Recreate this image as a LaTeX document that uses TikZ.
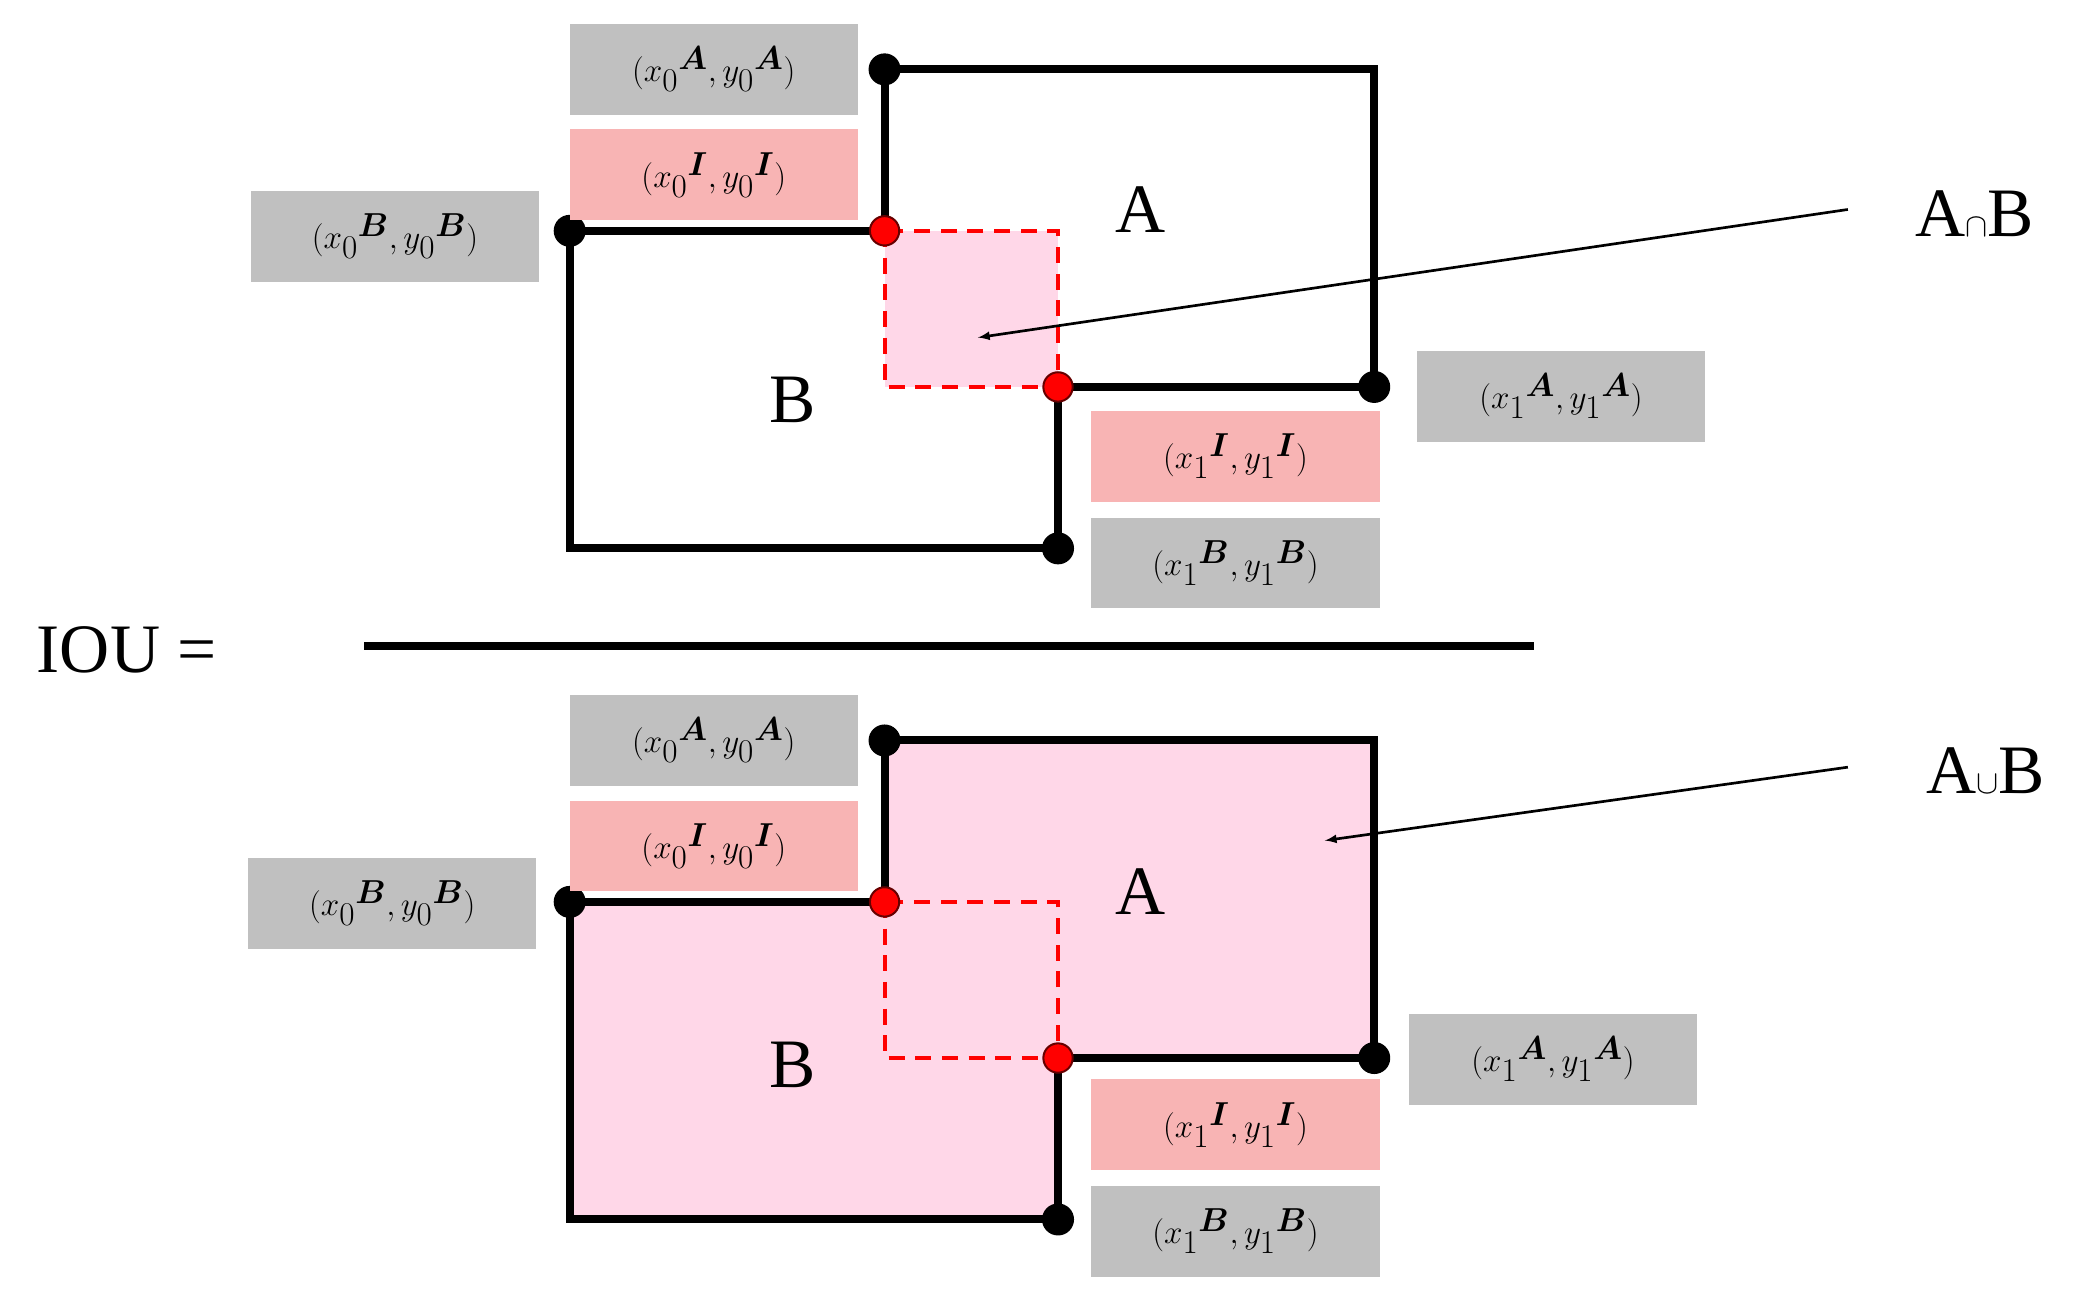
\documentclass[tikz,border=0pt]{standalone}
\usepackage{bm}
\usepackage{fontspec}
\setmainfont{Liberation Serif}
\begin{document}
\definecolor{gbox}{RGB}{192,192,192}
\definecolor{rbox}{RGB}{248,180,180}
\definecolor{pinkf}{RGB}{255,215,232}
\begin{tikzpicture}[x=1pt,y=-1pt,
  box/.style={line width=6pt,black},
  idash/.style={draw=red,line width=3pt,dash pattern=on 12pt off 8pt},
  bdot/.style={circle,fill=black,inner sep=0pt,minimum size=24pt},
  rdot/.style={circle,fill=red,draw=black!60!red,line width=1.5pt,inner sep=0pt,minimum size=22pt},
  lab/.style={inner sep=0pt,minimum width=216pt,minimum height=68pt,font=\fontsize{40}{48}\selectfont},
  g/.style={lab,fill=gbox},
  r/.style={lab,fill=rbox},
  big/.style={font=\fontsize{52}{60}\selectfont},
  arr/.style={-latex,line width=2pt,shorten >=0pt}]
\useasboundingbox (0,0) rectangle (1568,978);
\newcommand{\pl}[2]{$(x_#1{}^{\bm{#2}},y_#1{}^{\bm{#2}})$}
% top
\fill[pinkf] (663,173) rectangle (793,290);
\draw[box] (663,173) -- (663,52) -- (1030,52) -- (1030,290) -- (793,290);
\draw[box] (663,173) -- (427,173) -- (427,411) -- (793,411) -- (793,290);
\draw[idash] (663,173) rectangle (793,290);
\node[bdot] (a0) at (663,52) {};
\node[bdot] (b0) at (427,173) {};
\node[bdot] (a1) at (1030,290) {};
\node[bdot] (b1) at (793,411) {};
\node[rdot] (i0) at (663,173) {};
\node[rdot] (i1) at (793,290) {};
\node[g] (la0) at (535,52) {\pl0A};
\node[r] (li0) at (535,131) {\pl0I};
\node[g] (lb0) at (296,177) {\pl0B};
\node[g] (la1) at (1170,297) {\pl1A};
\node[r] (li1) at (926,342) {\pl1I};
\node[g] (lb1) at (926,422) {\pl1B};
\node[big] (tA) at (855,157) {A};
\node[big] (tB) at (594,300) {B};
\node[big] (AnB) at (1480,160) {A$\cap$B};
\coordinate (s1) at (1385,157);
\coordinate (e1) at (733,253);
\draw[arr] (s1) -- (e1);
% fraction
\node[big] (iou) at (95,487) {IOU =};
\coordinate (f0) at (273,484);
\coordinate (f1) at (1150,484);
\draw[line width=6pt] (f0) -- (f1);
% bottom
\fill[pinkf] (663,676) -- (663,555) -- (1030,555) -- (1030,793) -- (793,793) -- (793,914) -- (427,914) -- (427,676) -- cycle;
\draw[box] (663,676) -- (663,555) -- (1030,555) -- (1030,793) -- (793,793);
\draw[box] (663,676) -- (427,676) -- (427,914) -- (793,914) -- (793,793);
\draw[idash] (663,676) rectangle (793,793);
\node[bdot] (a0b) at (663,555) {};
\node[bdot] (b0b) at (427,676) {};
\node[bdot] (a1b) at (1030,793) {};
\node[bdot] (b1b) at (793,914) {};
\node[rdot] (i0b) at (663,676) {};
\node[rdot] (i1b) at (793,793) {};
\node[g] (la0b) at (535,555) {\pl0A};
\node[r] (li0b) at (535,634) {\pl0I};
\node[g] (lb0b) at (294,677) {\pl0B};
\node[g] (la1b) at (1164,794) {\pl1A};
\node[r] (li1b) at (926,843) {\pl1I};
\node[g] (lb1b) at (926,923) {\pl1B};
\node[big] (tAb) at (855,668) {A};
\node[big] (tBb) at (594,798) {B};
\node[big] (AuB) at (1488,578) {A$\cup$B};
\coordinate (s2) at (1385,575);
\coordinate (e2) at (993,630);
\draw[arr] (s2) -- (e2);
\end{tikzpicture}
\end{document}
